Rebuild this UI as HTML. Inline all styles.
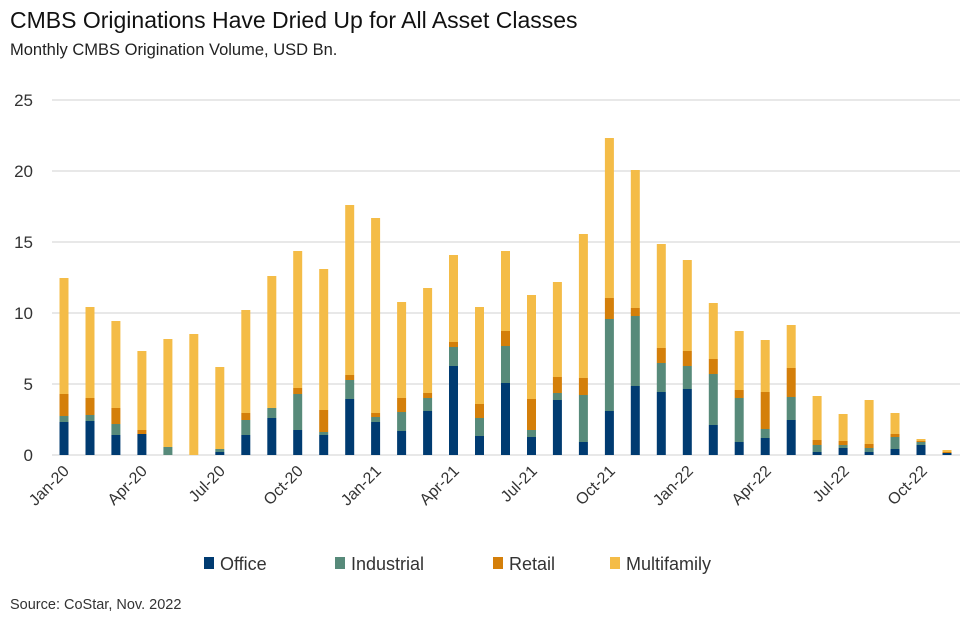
<!DOCTYPE html>
<html><head><meta charset="utf-8"><style>
body{margin:0;background:#fff;}
svg{display:block;font-family:"Liberation Sans",sans-serif;}
</style></head><body>
<svg id="c" width="974" height="619" xmlns="http://www.w3.org/2000/svg">
<text x="10" y="28" font-size="23" fill="#111">CMBS Originations Have Dried Up for All Asset Classes</text>
<text x="10" y="55" font-size="16.5" fill="#222">Monthly CMBS Origination Volume, USD Bn.</text>
<g stroke="#d9d9d9" stroke-width="1.3">
<line x1="52" x2="960" y1="100" y2="100"/><line x1="52" x2="960" y1="171" y2="171"/>
<line x1="52" x2="960" y1="242" y2="242"/><line x1="52" x2="960" y1="313" y2="313"/>
<line x1="52" x2="960" y1="384" y2="384"/><line x1="52" x2="960" y1="455" y2="455"/>
</g>
<g font-size="17" fill="#333" text-anchor="end">
<text x="33" y="106">25</text><text x="33" y="177">20</text><text x="33" y="248">15</text>
<text x="33" y="319">10</text><text x="33" y="390">5</text><text x="33" y="461">0</text>
</g>
<g id="bars"></g>
<g font-size="16" fill="#333" text-anchor="end">
<text transform="translate(70,472) rotate(-45)">Jan-20</text>
<text transform="translate(148,472) rotate(-45)">Apr-20</text>
<text transform="translate(226,472) rotate(-45)">Jul-20</text>
<text transform="translate(304,472) rotate(-45)">Oct-20</text>
<text transform="translate(382,472) rotate(-45)">Jan-21</text>
<text transform="translate(460,472) rotate(-45)">Apr-21</text>
<text transform="translate(538,472) rotate(-45)">Jul-21</text>
<text transform="translate(616,472) rotate(-45)">Oct-21</text>
<text transform="translate(694,472) rotate(-45)">Jan-22</text>
<text transform="translate(772,472) rotate(-45)">Apr-22</text>
<text transform="translate(850,472) rotate(-45)">Jul-22</text>
<text transform="translate(928,472) rotate(-45)">Oct-22</text>
</g>
<g font-size="18" fill="#333">
<rect x="204" y="557" width="10" height="12" fill="#003b71"/><text x="220" y="570">Office</text>
<rect x="335" y="557" width="10" height="12" fill="#578a7a"/><text x="351" y="570">Industrial</text>
<rect x="493" y="557" width="10" height="12" fill="#d47f0a"/><text x="509" y="570">Retail</text>
<rect x="610" y="557" width="10" height="12" fill="#f4bc47"/><text x="626" y="570">Multifamily</text>
</g>
<text x="10" y="609" font-size="14.5" fill="#333">Source: CoStar, Nov. 2022</text>
</svg>
<script>
var d=[[422,416,394,278],[421,415,398,307],[435,424,408,321],[434,434,430,351],[455,447,447,339],[455,455,455,334],[452,449,449,367],[435,420,413,310],[418,408,408,276],[430,394,388,251],[435,432,410,269],[399,380,375,205],[422,417,413,218],[431,412,398,302],[411,398,393,288],[366,347,342,255],[436,418,404,307],[383,346,331,251],[437,430,399,295],[400,393,377,282],[442,395,378,234],[411,319,298,138],[386,316,308,170],[392,363,348,244],[389,366,351,260],[425,374,359,303],[442,398,390,331],[438,429,392,340],[420,397,368,325],[452,445,440,396],[448,445,441,414],[452,448,444,400],[449,437,434,413],[445,442,441,439],[453,453,452,450]];
var cols=["#003b71","#578a7a","#d47f0a","#f4bc47"],s="";
d.forEach(function(b,i){var x=64+i*25.97-4.5,prev=455;for(var k=0;k<4;k++){var h=prev-b[k];if(h>0)s+='<rect x="'+x.toFixed(1)+'" y="'+b[k]+'" width="9" height="'+h+'" fill="'+cols[k]+'"/>';prev=b[k];}});
document.getElementById("bars").innerHTML=s;
</script>
</body></html>
